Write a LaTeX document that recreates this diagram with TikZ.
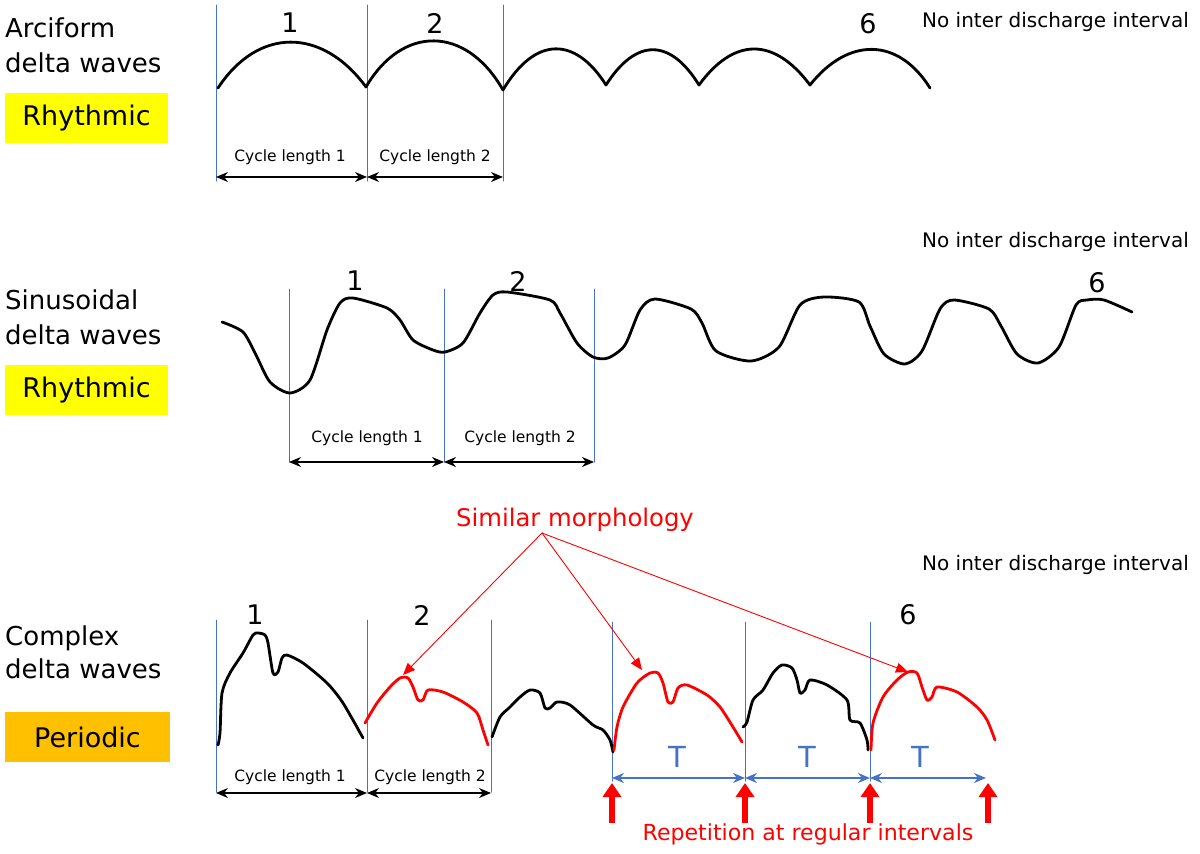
\documentclass[tikz,border=0pt]{standalone}
\usepackage{fontspec}
\setmainfont{DejaVu Sans}
\usetikzlibrary{arrows.meta}
\definecolor{lineblue}{HTML}{4472C4}
\definecolor{hlyellow}{HTML}{FFFF00}
\definecolor{hlorange}{HTML}{FFC000}
\tikzset{
  every picture/.style={line join=round, line cap=round},
  marker/.style={lineblue, line width=1pt},
  wave/.style={line width=2.8pt, smooth, tension=0.45},
  cyclen/.style={{Stealth[length=12pt,width=10pt]}-{Stealth[length=12pt,width=10pt]}, line width=1.1pt},
  tarr/.style={{Stealth[length=12pt,width=10pt]}-{Stealth[length=12pt,width=10pt]}, lineblue, line width=1.4pt},
  uparr/.style={-{Triangle[length=14pt,width=18pt]}, red, line width=6pt, line cap=butt},
  morpharr/.style={-{Triangle[length=12pt,width=10pt]}, red, line width=0.9pt},
  wname/.style={anchor=base west, inner sep=0pt, font=\fontsize{26}{30}\selectfont},
  tag/.style={minimum width=163pt, minimum height=50pt, inner sep=0pt, font=\fontsize{27}{30}\selectfont},
  num/.style={inner sep=0pt, font=\fontsize{27}{30}\selectfont},
  note/.style={anchor=west, inner sep=0pt, font=\fontsize{20}{24}\selectfont},
  cyc/.style={inner sep=0pt, font=\fontsize{15.5}{18}\selectfont},
}

\begin{document}
\begin{tikzpicture}[x=1pt,y=-1pt]
\useasboundingbox (0,0) rectangle (1200,854);

% ---- arciform
\node[wname] (arc1) at (5,37) {Arciform};
\node[wname] (arc2) at (5,72) {delta waves};
\node[tag, fill=hlyellow] (arctag) at (86.5,118) {Rhythmic};
\foreach \x in {216,367,503} \draw[marker] (\x,5) -- (\x,181);
\draw[wave] (218,88) .. controls (258,27) and (322,27) .. (366,87)
  .. controls (402,25) and (466,25) .. (503,90)
  .. controls (535,36) and (575,36) .. (606,85)
  .. controls (636,38) and (670,38) .. (699,85)
  .. controls (734,37) and (774,37) .. (810,85)
  .. controls (848,37) and (898,37) .. (930,88);
\node[num] (a1) at (290,23) {1};
\node[num] (a2) at (435,23) {2};
\node[num] (a6) at (868,24) {6};
\node[note] (anote) at (922,22) {No inter discharge interval};
\node[cyc] (acyc1) at (290,157) {Cycle length 1};
\node[cyc] (acyc2) at (435,157) {Cycle length 2};
\coordinate (ap1) at (216,177);
\coordinate (ap2) at (367,177);
\coordinate (ap3) at (503,177);
\draw[cyclen] (ap1) -- (ap2);
\draw[cyclen] (ap2) -- (ap3);

% ---- sinusoidal
\node[note] (snote) at (922,242) {No inter discharge interval};
\node[wname] (sin1) at (5,309) {Sinusoidal};
\node[wname] (sin2) at (5,344) {delta waves};
\node[tag, fill=hlyellow] (sintag) at (86.5,390) {Rhythmic};
\foreach \x in {289,444,594} \draw[marker] (\x,289) -- (\x,462);
\draw[wave] plot coordinates {(222,322) (243,332) (256,355) (270,382) (290,393)
  (310,380) (327,330) (340,303) (353,298) (387,308) (400,320) (413,340) (433,350)
  (445,352) (463,343) (480,313) (493,295) (507,292) (550,300) (560,313) (577,343)
  (593,357) (608,358) (625,345) (640,310) (655,299) (691,309) (702,323) (716,351)
  (751,361) (779,347) (800,305) (824,297) (859,302) (870,326) (884,354) (905,364)
  (922,351) (940,309) (954,300) (989,309) (1001,326) (1017,354) (1038,363)
  (1059,347) (1076,305) (1087,300) (1104,300) (1132,312)};
\node[num] (s1) at (355,281) {1};
\node[num] (s2) at (518,281) {2};
\node[num] (s6) at (1097,283) {6};
\node[cyc] (scyc1) at (367,438) {Cycle length 1};
\node[cyc] (scyc2) at (520,438) {Cycle length 2};
\coordinate (sp1) at (289,462);
\coordinate (sp2) at (444,462);
\coordinate (sp3) at (594,462);
\draw[cyclen] (sp1) -- (sp2);
\draw[cyclen] (sp2) -- (sp3);

% ---- complex
\node[font=\fontsize{24.3}{28}\selectfont, red, inner sep=0pt] (morph) at (575,520) {Similar morphology};
\node[note] (cnote) at (922,565) {No inter discharge interval};
\node[wname] (cpx1) at (5,645) {Complex};
\node[wname] (cpx2) at (5,678) {delta waves};
\node[tag, fill=hlorange, minimum width=165pt] (cpxtag) at (87.5,737) {Periodic};
\foreach \x in {216,367,491} \draw[marker] (\x,620) -- (\x,792);
\foreach \x in {612,745,870} \draw[marker] (\x,622) -- (\x,781);
\draw[wave] plot coordinates {(218,745) (220,733) (222,693) (230,673) (243,653)
  (253,635) (258,633) (265,635) (268,643) (273,673) (278,672) (282,658) (287,655)
  (303,663) (327,683) (343,703) (363,738)};
\draw[wave, red] plot coordinates {(365,723) (377,703) (390,687) (400,678) (408,678)
  (413,687) (418,700) (423,700) (428,690) (443,692) (463,702) (477,713) (483,730) (488,745)};
\draw[wave] plot coordinates {(492,737) (500,717) (510,707) (520,697) (530,690)
  (540,693) (545,708) (550,708) (557,702) (570,705) (593,725) (603,730) (610,740) (613,752)};
\draw[wave, red] plot coordinates {(614,750) (617,727) (623,707) (637,683) (650,673)
  (658,673) (663,683) (668,702) (673,702) (678,688) (687,685) (707,695) (720,707)
  (733,727) (742,742)};
\draw[wave] plot coordinates {(743,727) (747,722) (753,700) (763,690) (773,673)
  (782,665) (792,668) (797,680) (800,693) (805,690) (810,680) (827,685) (847,700)
  (850,720) (860,723) (867,740) (868,750)};
\draw[wave, red] plot coordinates {(871,750) (873,723) (883,697) (897,680) (908,672)
  (917,673) (922,687) (927,700) (932,697) (937,687) (957,692) (977,707) (987,720) (995,740)};
\node[num] (c1) at (255,615) {1};
\node[num] (c2) at (422,615) {2};
\node[num] (c6) at (908,615) {6};
\coordinate (mo) at (542,533);
\coordinate (m2) at (403,675);
\coordinate (m4) at (642,670);
\coordinate (m6) at (908,672);
\draw[morpharr] (mo) -- (m2);
\draw[morpharr] (mo) -- (m4);
\draw[morpharr] (mo) -- (m6);
\node[cyc] (ccyc1) at (290,777) {Cycle length 1};
\node[cyc] (ccyc2) at (430,777) {Cycle length 2};
\coordinate (cp1) at (216,793);
\coordinate (cp2) at (367,793);
\coordinate (cp3) at (491,793);
\draw[cyclen] (cp1) -- (cp2);
\draw[cyclen] (cp2) -- (cp3);
\foreach \x/\n in {677/t1,807/t2,920/t3}
  \node[inner sep=0pt, lineblue, font=\fontsize{29}{32}\selectfont] (\n) at (\x,757) {T};
\coordinate (tp1) at (612,778);
\coordinate (tp2) at (745,778);
\coordinate (tp3) at (870,778);
\coordinate (tp4) at (986,778);
\draw[tarr] (tp1) -- (tp2);
\draw[tarr] (tp2) -- (tp3);
\draw[tarr] (tp3) -- (tp4);
\foreach \x in {612,745,870,988} \draw[uparr] (\x,823) -- (\x,783);
\node[font=\fontsize{22.1}{26}\selectfont, red, inner sep=0pt] (rep) at (808,834) {Repetition at regular intervals};
\end{tikzpicture}
\end{document}
